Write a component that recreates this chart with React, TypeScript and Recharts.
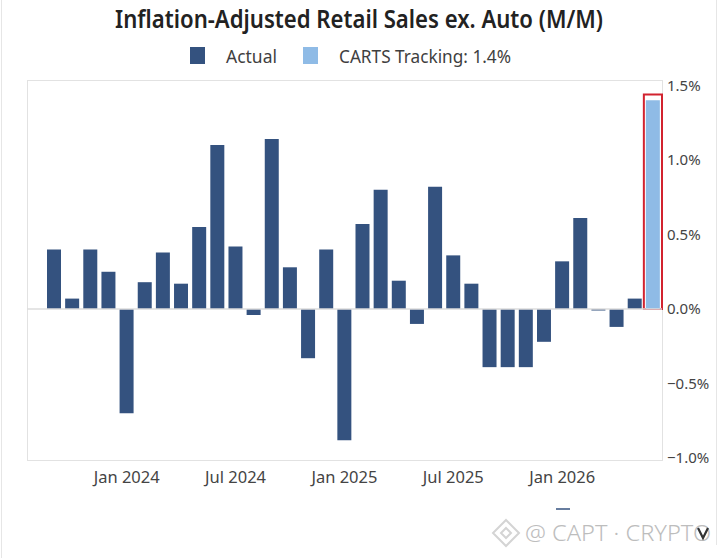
import React from "react";
import { BarChart, Bar, XAxis, YAxis, ReferenceLine, ReferenceArea, Legend } from "recharts";

const months = [
  "Sep 2023","Oct 2023","Nov 2023","Dec 2023","Jan 2024","Feb 2024","Mar 2024","Apr 2024","May 2024","Jun 2024",
  "Jul 2024","Aug 2024","Sep 2024","Oct 2024","Nov 2024","Dec 2024","Jan 2025","Feb 2025","Mar 2025","Apr 2025",
  "May 2025","Jun 2025","Jul 2025","Aug 2025","Sep 2025","Oct 2025","Nov 2025","Dec 2025","Jan 2026","Feb 2026",
  "Mar 2026","Apr 2026","May 2026","Jun 2026",
];
const actual: (number | null)[] = [
  0.4,0.07,0.4,0.25,-0.7,0.18,0.38,0.17,0.55,1.1,
  0.42,-0.04,1.14,0.28,-0.33,0.4,-0.88,0.57,0.8,0.19,
  -0.1,0.82,0.36,0.17,-0.39,-0.39,-0.39,-0.22,0.32,0.61,
  -0.01,-0.12,0.07,null,
];
const tracking: (number | null)[] = [...Array(33).fill(null), 1.4];
const xTicks = ["Jan 2024","Jul 2024","Jan 2025","Jul 2025","Jan 2026"];
const yTicks = [-1,-0.5,0,0.5,1,1.5];
const data = months.map((m, i) => ({ m, actual: actual[i], tracking: tracking[i] }));

const FONT = "'Noto Sans', sans-serif";
const fmt = (v: number) => `${v < 0 ? "\u2212" : ""}${Math.abs(v).toFixed(1)}%`;

const LegendContent = ({ payload }: any) => {
  const pos = [{ sq: 190, tx: 226, w: 51 }, { sq: 303, tx: 339, w: 172 }];
  return (
    <div style={{ position: "relative", width: 719, height: 24 }}>
      {(payload || []).map((p: any, i: number) => (
        <React.Fragment key={p.value}>
          <div style={{ position: "absolute", left: pos[i].sq, top: 3, width: 15, height: 17, background: p.color }} />
          <svg style={{ position: "absolute", left: pos[i].tx, top: 0, overflow: "visible" }} width={pos[i].w + 30} height={26}>
            <text x={0} y={19} fontFamily={FONT} fontSize={18} fill="#3f3f3f" textLength={pos[i].w} lengthAdjust="spacingAndGlyphs">{p.value}</text>
          </svg>
        </React.Fragment>
      ))}
    </div>
  );
};

export default function App() {
  return (
    <div style={{ position: "absolute", left: 0, top: 0, width: 719, height: 558, background: "#fff", overflow: "hidden" }}>
      <div style={{ position: "absolute", left: 1, top: 0, width: 1, height: 558, background: "#e6e6e6" }} />
      <div style={{ position: "absolute", left: 716, top: 0, width: 1, height: 545, background: "#e6e6e6" }} />
      <div style={{ position: "absolute", left: 27, top: 80, width: 634, height: 379, border: "1.5px solid #e2e2e2" }} />
      <svg style={{ position: "absolute", left: 0, top: 0 }} width={719} height={558}>
        <text x={115} y={28} fontFamily={FONT} fontWeight={600} fontSize={26} fill="#222" textLength={488} lengthAdjust="spacingAndGlyphs">Inflation-Adjusted Retail Sales ex. Auto (M/M)</text>
        <g transform="translate(506,533)" fill="none" stroke="#d4d4d4" strokeWidth={2}>
          <path d="M0 -13 L13 0 L0 13 L-13 0 Z" />
          <path d="M0 -5 L5 0 L0 5 L-5 0 Z" />
        </g>
        <text x={525} y={541} fontFamily={FONT} fontWeight={300} fontSize={22} fill="#bdbdbd" textLength={186} lengthAdjust="spacingAndGlyphs">@ CAPT · CRYPTO</text>
        <path d="M556 509 H570" stroke="#34527f" strokeWidth={1.5} />
        <path d="M698 528 L703 538 L708 528" fill="none" stroke="#333" strokeWidth={2.2} />
      </svg>
      <BarChart
        width={719}
        height={558}
        data={data}
        style={{ position: "absolute", left: 0, top: 0 }}
        margin={{ top: 57, right: 0, bottom: 58, left: 27 }}
        barSize={14}
      >
        <XAxis
          dataKey="m"
          ticks={xTicks}
          interval={0}
          padding={{ left: 18, right: 0 }}
          height={40}
          axisLine={false}
          tickLine={false}
          tickMargin={5}
          tick={{ fontFamily: FONT, fontSize: 16.5, fill: "#444" }}
        />
        <YAxis
          orientation="right"
          width={57}
          domain={[-1.013, 1.53]}
          ticks={yTicks}
          allowDataOverflow
          axisLine={false}
          tickLine={false}
          tickSize={0}
          tickMargin={5}
          tickFormatter={fmt}
          tick={{ fontFamily: FONT, fontSize: 15, fill: "#444" }}
        />
        <Legend verticalAlign="top" align="left" wrapperStyle={{ position: "absolute", left: 0, top: 44, width: 719 }} content={<LegendContent />} />
        <ReferenceLine y={0} stroke="#dcdcdc" strokeWidth={1.5} />
        <Bar dataKey="actual" name="Actual" stackId="s" fill="#34527f" isAnimationActive={false} />
        <Bar dataKey="tracking" name="CARTS Tracking: 1.4%" stackId="s" fill="#8fbbe6" isAnimationActive={false} />
        <ReferenceArea x1="Jun 2026" x2="Jun 2026" y1={0} y2={1.44} fill="none" stroke="#d2232f" strokeWidth={2} ifOverflow="visible" />
      </BarChart>
    </div>
  );
}
